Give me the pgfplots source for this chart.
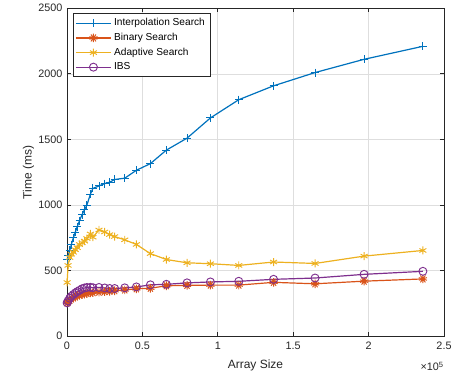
\documentclass[border=0pt]{standalone}
\usepackage{fontspec}
\setmainfont{Liberation Sans}
\usepackage{pgfplots}
\usepackage{pgfplotstable}
\pgfplotsset{compat=1.18}
\usetikzlibrary{plotmarks}
\definecolor{mblue}{rgb}{0,0.447,0.741}
\definecolor{mred}{rgb}{0.85,0.325,0.098}
\definecolor{myellow}{rgb}{0.929,0.694,0.125}
\definecolor{mpurple}{rgb}{0.494,0.184,0.556}
\definecolor{maxis}{rgb}{0.15,0.15,0.15}

\pgfplotstableread{
x      interp  binary  adaptive  ibs
0.001  583     255     410       255
0.007  616     262     540       270
0.018  654     275     600       290
0.029  699     285     625       305
0.042  750     293     640       318
0.055  793     300     660       330
0.068  836     307     675       340
0.083  881     313     700       350
0.100  927     318     712       362
0.116  964     322     725       368
0.132  1000    326     745       372
0.155  1083    330     780       373
0.172  1127    332     755       370
0.212  1146    336     810       372
0.250  1164    340     795       368
0.283  1174    343     775       364
0.316  1195    347     760       364
0.383  1205    353     735       369
0.460  1265    362     700       376
0.553  1316    366     630       392
0.659  1419    385     585       396
0.796  1510    388     560       407
0.951  1664    390     553       414
1.139  1803    390     540       419
1.370  1909    411     566       434
1.645  2010    400     555       444
1.970  2111    420     611       472
2.360  2210    437     654       495
}\datatable

\begin{document}
\begin{tikzpicture}[x=1pt,y=1pt]
\path (0,0) rectangle (355.5,284.25);
\begin{axis}[
  at={(50.25pt,34.5pt)}, anchor=south west,
  scale only axis, width=282.75pt, height=246pt,
  xmin=0, xmax=2.5, ymin=0, ymax=2500,
  xtick={0,0.5,1,1.5,2,2.5},
  xticklabels={0,0.5,1,1.5,2,2.5},
  ytick={0,500,1000,1500,2000,2500},
  /pgf/number format/assume math mode=true,
  /pgf/number format/1000 sep={},
  tick label style={font=\fontsize{8.1}{9}\selectfont, color=maxis},
  xticklabel style={yshift=-1pt},
  axis line style={color=maxis, line width=0.6pt},
  tick style={color=maxis, line width=0.6pt},
  major tick length=3pt,
  grid=major,
  major grid style={color=black!13, line width=0.5pt},
  xlabel={Array Size},
  ylabel={Time (ms)},
  label style={font=\fontsize{9}{10}\selectfont, color=maxis},
  xlabel style={at={(axis description cs:0.5,-0.088)}, anchor=center},
  ylabel style={at={(axis description cs:-0.102,0.5)}, anchor=center},
  every axis plot/.append style={line width=0.9pt},
  legend cell align=left,
  legend style={at={(0.015,0.985)}, anchor=north west, draw=maxis, fill=white,
    line width=0.5pt, font=\fontsize{7.6}{8.5}\selectfont,
    row sep=0pt, inner sep=1.8pt},
  legend image code/.code={\draw[mark repeat=2,mark phase=2] plot coordinates {(0cm,0cm) (0.46cm,0cm) (0.92cm,0cm)};},
  clip=false,
]
\addplot[color=mblue, mark=+, mark size=3pt, mark options={line width=0.7pt}] table[x=x, y=interp] {\datatable};
\addlegendentry{Interpolation Search}
\addplot[color=mred, mark=10-pointed star, mark size=3.2pt, mark options={line width=0.7pt, fill=none}] table[x=x, y=binary] {\datatable};
\addlegendentry{Binary Search}
\addplot[color=myellow, mark=asterisk, mark size=3pt, mark options={line width=0.7pt}] table[x=x, y=adaptive] {\datatable};
\addlegendentry{Adaptive Search}
\addplot[color=mpurple, mark=o, mark size=3pt, mark options={line width=0.7pt}] table[x=x, y=ibs] {\datatable};
\addlegendentry{IBS}
\node[anchor=north east, inner sep=0pt, font=\fontsize{8.1}{9}\selectfont, color=maxis] at (rel axis cs:1,0) [yshift=-19pt] {×10\textsuperscript{5}};
\end{axis}
\end{tikzpicture}
\end{document}
